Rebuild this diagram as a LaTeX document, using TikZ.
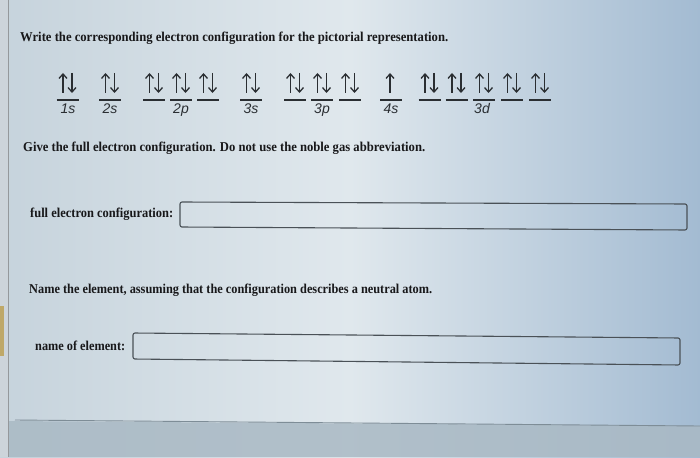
\documentclass[tikz,border=0pt]{standalone}
\usepackage{fontspec}
\setmainfont{Liberation Serif}
\newfontfamily\lsans{Liberation Sans}
\usetikzlibrary{arrows.meta}
\definecolor{txt}{HTML}{18181A}
\definecolor{ink}{HTML}{2A2E32}
\definecolor{bgl}{HTML}{C6D3DC}
\definecolor{bgm}{HTML}{E0E8ED}
\definecolor{bgr}{HTML}{A3BBD2}
\definecolor{boxc}{HTML}{4A5157}
\definecolor{tabc}{HTML}{BFA868}
\definecolor{bandc}{HTML}{A9B9C4}
\definecolor{rulec}{HTML}{7E8D97}
\begin{document}
\begin{tikzpicture}[x=1pt,y=-1pt,
  qtext/.style={anchor=base west, inner sep=0, text=txt, font=\bfseries\fontsize{13.5}{15}\selectfont},
  orb/.style={draw=ink, line width=1.1pt},
  spin/.style={draw=ink, line width=1.3pt, -{Straight Barb[length=4.5pt,width=8pt,line width=1.3pt]}},
  lab/.style={anchor=base, inner sep=0, text=ink, font=\lsans\itshape\fontsize{14}{15}\selectfont},
  ansbox/.style={draw=boxc, line width=1.1pt, rounded corners=2pt}]
\useasboundingbox (0,0) rectangle (700,457);
% background
\shade[left color=bgl, right color=bgr, middle color=bgm, shading angle=90] (0,0) rectangle (700,457);
\fill[bgl!80!gray!70] (0,0) rectangle (8,457);
\draw[gray!70!bgl, line width=0.8pt] (8,0) -- (8,457);
\fill[tabc] (0,306) rectangle (4,356);
\fill[bandc, opacity=0.85] (9,421) -- (700,426) -- (700,457) -- (9,457) -- cycle;
\draw[rulec, line width=0.9pt] (15,420) -- (700,426);
% title
\node[qtext] (title) at (20,42) {\resizebox{428pt}{\height}{Write the corresponding electron configuration for the pictorial representation.}};
% orbitals
\foreach \c [count=\i] in {67.5,110,154,181,208,251,295,322,350,429.5,456.5,484,512,540} {
  \draw[orb] (\c-11,100) -- (\c+11,100);
  \draw[spin] (\c-4.5,93) -- (\c-4.5,73);
  \draw[spin] (\c+4.5,73) -- (\c+4.5,93);
}
\draw[orb] (380,100) -- (402,100);
\draw[spin] (390,93) -- (390,73);
\node[lab] (l1s) at (68,114) {1s};
\node[lab] (l2s) at (110,114) {2s};
\node[lab] (l2p) at (181,114) {2p};
\node[lab] (l3s) at (251,114) {3s};
\node[lab] (l3p) at (322,114) {3p};
\node[lab] (l4s) at (391,114) {4s};
\node[lab] (l3d) at (482,114) {3d};
% questions
\node[qtext] (give) at (23,151) {\resizebox{402pt}{\height}{Give the full electron configuration. Do not use the noble gas abbreviation.}};
\node[qtext] (full) at (30,217) {\resizebox{143pt}{\height}{full electron configuration:}};
\draw[ansbox] (180,202) -- (687,204) -- (687,230) -- (180,227) -- cycle;
\node[qtext] (name) at (29,293) {\resizebox{403pt}{\height}{Name the element, assuming that the configuration describes a neutral atom.}};
\node[qtext] (nameof) at (35,350) {\resizebox{90pt}{\height}{name of element:}};
\draw[ansbox] (133,333) -- (680,338) -- (680,365) -- (133,359) -- cycle;
\end{tikzpicture}
\end{document}
